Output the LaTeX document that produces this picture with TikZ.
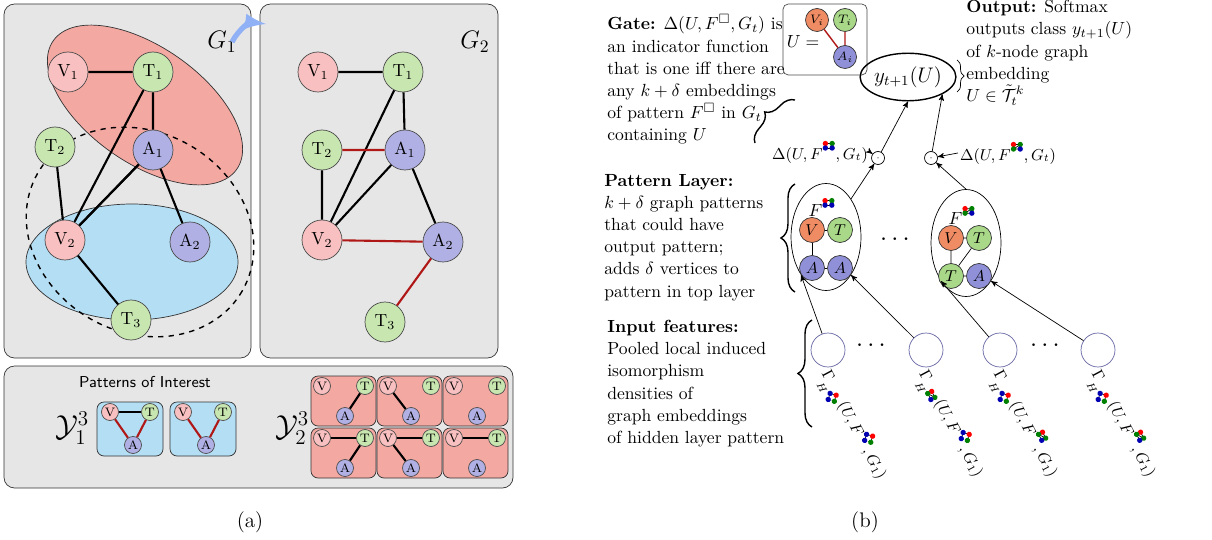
\documentclass[tikz,border=0pt]{standalone}
\usepackage{amsmath,amssymb}
\usetikzlibrary{arrows,decorations.pathreplacing,calc,shapes.geometric}
\definecolor{panel}{HTML}{E6E6E6}
\definecolor{vcol}{HTML}{F8C0C0}
\definecolor{tcol}{HTML}{C8E6B0}
\definecolor{acol}{HTML}{B0B0E4}
\definecolor{vcolB}{HTML}{F08C64}
\definecolor{tcolB}{HTML}{A8D888}
\definecolor{acolB}{HTML}{9090D8}
\definecolor{redell}{HTML}{F4A8A2}
\definecolor{blueell}{HTML}{B4DEF4}
\definecolor{edgered}{HTML}{B01818}
\newcommand\pt[2]{\fill[#1] (#2) circle (0.6);}
\newcommand\patsq{\tikz[baseline=0pt,x=0.09cm,y=0.09cm]{\draw[thin](0,2)--(1.5,2) (0,2)--(0,1)--(1.5,1);\pt{red}{0,2}\pt{green!50!black}{1.5,2}\pt{blue!70!black}{0,1}\pt{blue!70!black}{1.5,1}}}
\newcommand\patz{\tikz[baseline=0pt,x=0.09cm,y=0.09cm]{\draw[thin](0,2)--(1.5,2)--(0,1)--(1.5,1);\pt{red}{0,2}\pt{green!50!black}{1.5,2}\pt{green!50!black}{0,1}\pt{blue!70!black}{1.5,1}}}
\newcommand\patv{\tikz[baseline=0pt,x=0.09cm,y=0.09cm]{\draw[thin](0,1)--(1,2)--(2,1) (0,1)--(1,0);\pt{blue!70!black}{0,1}\pt{red}{1,2}\pt{green!50!black}{2,1}\pt{blue!70!black}{1,0}}}
\tikzset{
  g/.style={circle,draw=black!70,minimum size=0.8cm,inner sep=0pt,font=\rmfamily},
  gv/.style={g,fill=vcol}, gt/.style={g,fill=tcol}, ga/.style={g,fill=acol},
  s/.style={circle,draw=black!70,minimum size=0.34cm,inner sep=0pt,font=\rmfamily\scriptsize},
  sv/.style={s,fill=vcol}, st/.style={s,fill=tcol}, sa/.style={s,fill=acol},
  p/.style={circle,draw=black!80,minimum size=0.5cm,inner sep=0pt,font=\small},
  pv/.style={p,fill=vcolB}, pt/.style={p,fill=tcolB}, pa/.style={p,fill=acolB},
  e/.style={very thick}, er/.style={very thick,edgered},
  panelbox/.style={draw=black!80,fill=panel,rounded corners=6pt},
  txt/.style={align=left,anchor=north west,inner sep=0pt,font=\fontsize{10}{12.6}\selectfont},
  inp/.style={circle,draw=blue!40!black!60,minimum size=0.68cm,inner sep=0pt},
  od/.style={circle,draw=black,inner sep=0pt,minimum size=0.26cm,font=\tiny},
  arr/.style={->,>=stealth',thin},
  pell/.style={draw,ellipse,minimum width=1.4cm,minimum height=2.14cm,fill=white},
  gam/.style={rotate=-62,anchor=west,inner sep=1pt,font=\small}
}
\begin{document}
\begin{tikzpicture}[x=0.02cm,y=-0.02cm]
\useasboundingbox (0,0) rectangle (1212,540);
% panels
\draw[panelbox] (4,4) rectangle (251,358);
\draw[panelbox] (260,4) rectangle (498,358);
\draw[panelbox] (4,366) rectangle (513,488);
% G1
\draw[fill=redell,draw=black!80,rotate around={-35:(145,105)}] (145,105) ellipse (112 and 58);
\draw[fill=blueell,draw=black!80] (132,262) ellipse (106 and 58);
\draw[dashed,thick,rotate around={-30:(140,232)}] (140,232) ellipse (118 and 100);
\node[gv] (v1) at (68,72) {V$_1$};
\node[gt] (t1) at (153,72) {T$_1$};
\node[gt] (t2) at (55,147) {T$_2$};
\node[ga] (a1) at (153,150) {A$_1$};
\node[gv] (v2) at (65,240) {V$_2$};
\node[ga] (a2) at (190,242) {A$_2$};
\node[gt] (t3) at (131,320) {T$_3$};
\draw[e] (v1)--(t1) (t1)--(a1) (t1)--(v2) (a1)--(v2) (a1)--(a2) (t2)--(v2) (v2)--(t3);
\draw[e] (a1.south west)--(v2.north east);
\node[font=\Large] (g1) at (222,42) {$G_1$};
\node[font=\Large] (g2) at (475,42) {$G_2$};
\coordinate (c1) at (232,42); \coordinate (c2) at (266,24);
\draw[->,>=latex,line width=3pt,blueell!80!blue] (c1) to[bend left=35] (c2);
% G2
\node[gv] (w1) at (318,72) {V$_1$};
\node[gt] (u1) at (403,72) {T$_1$};
\node[gt] (u2) at (322,150) {T$_2$};
\node[ga] (b1) at (405,150) {A$_1$};
\node[gv] (w2) at (322,240) {V$_2$};
\node[ga] (b2) at (443,242) {A$_2$};
\node[gt] (u3) at (385,322) {T$_3$};
\draw[e] (w1)--(u1) (u1)--(b1) (u1)--(w2) (b1)--(w2) (b1)--(b2) (u2)--(w2);
\draw[er] (u2)--(b1) (w2)--(b2) (b2)--(u3);
% patterns of interest
\node[font=\sffamily\small] (poi) at (145,382) {Patterns of Interest};
\node[font=\LARGE] (y1) at (72,428) {$\mathcal{Y}_1^3$};
\node[font=\LARGE] (y2) at (292,428) {$\mathcal{Y}_2^3$};
\foreach \x/\k in {97/1,170/2}{
  \draw[fill=blueell,draw=black!80,rounded corners=4pt] (\x,402) rectangle ++(66,54);
  \node[sv] (pv\k) at (\x+13,412) {V};
  \node[st] (pt\k) at (\x+53,412) {T};
  \node[sa] (pa\k) at (\x+36,445) {A};
  \draw[er] (pv\k)--(pa\k) (pa\k)--(pt\k);
}
\draw[e] (pv1)--(pt1);
\foreach \c in {0,1,2}{\foreach \r in {0,1}{
  \draw[fill=redell,draw=black!80,rounded corners=4pt] (311+66*\c,376+52*\r) rectangle ++(65,50);
  \node[sv] (qv\c\r) at (322+66*\c,386+52*\r) {V};
  \node[st] (qt\c\r) at (365+66*\c,386+52*\r) {T};
  \node[sa] (qa\c\r) at (345+66*\c,416+52*\r) {A};
  \ifnum\r=1 \draw[e] (qv\c\r)--(qt\c\r); \fi
}}
\draw[e] (qa00)--(qt00) (qa10)--(qv10) (qa01)--(qt01) (qa11)--(qv11);
% captions
\node (capa) at (250,522) {\large (a)};
\node (capb) at (865,522) {\large (b)};
% U box
\draw[draw=black!70,fill=white,rounded corners=3pt] (783,4) rectangle (867,75);
\node (ueq) at (803,42) {$U=$};
\node[pv,minimum size=0.46cm] (ui) at (817,20) {\scriptsize$V_i$};
\node[pt,minimum size=0.46cm] (ti) at (845,20) {\scriptsize$T_i$};
\node[pa,minimum size=0.46cm] (ai) at (845,57) {\scriptsize$A_i$};
\draw[edgered,thick] (ui)--(ai) (ti)--(ai);
% right texts
\node[txt] (gate) at (607,14) {\textbf{Gate:} $\Delta(U,F^{\square},G_t)$ is\\an indicator function\\that is one iff there are\\any $k+\delta$ embeddings\\of pattern $F^{\square}$ in $G_t$\\containing $U$};
\node[txt] (outp) at (966,0) {\textbf{Output:} Softmax\\outputs class $y_{t+1}(U)$\\of $k$-node graph\\embedding\\$U\in\tilde{\mathcal{T}}_t^k$};
\node[txt] (play) at (604,174) {\textbf{Pattern Layer:}\\$k+\delta$ graph patterns\\that could have\\output pattern;\\adds $\delta$ vertices to\\pattern in top layer};
\node[txt] (inf) at (607,320) {\textbf{Input features:}\\Pooled local induced\\isomorphism\\densities of\\graph embeddings\\of hidden layer pattern};
% output
\node[draw,ellipse,minimum width=1.7cm,minimum height=0.95cm,inner sep=0pt,thick,font=\large] (yout) at (908,77) {$y_{t+1}(U)$};
\draw[decorate,decoration={brace,amplitude=4pt}] (957,60)--(957,92);
\draw[decorate,decoration={brace,amplitude=8pt},thick] (755,143)--(795,100);
% gates
\node[od] (o1) at (878,158) {$\cdot$};
\node[od] (o2) at (931,158) {$\cdot$};
\node[anchor=east,inner sep=1pt,font=\small] (d1) at (870,152) {$\Delta(U,F^{\patsq},G_t)$};
\node[anchor=west,inner sep=1pt,font=\small] (d2) at (958,153) {$\Delta(U,F^{\patz},G_t)$};
\draw[arr] (d1.east)--(o1);
\draw[arr] (d2.west)--(o2);
\draw[arr] (o1)--(yout.south);
\draw[arr] (o2)--(yout.south east);
% pattern ellipses
\node[pell] (pe1) at (826,237) {};
\node[pell] (pe2) at (966,243) {};
\node (f1) at (822,207) {$F^{\patsq}$};
\node (f2) at (962,215) {$F^{\patz}$};
\node[pv] (p1v) at (812,230) {$V$};
\node[pt] (p1t) at (840,230) {$T$};
\node[pa] (p1a) at (812,268) {$A$};
\node[pa] (p1b) at (840,268) {$A$};
\draw[thin] (p1v)--(p1t) (p1v)--(p1a) (p1a)--(p1b);
\node[pv] (p2v) at (951,238) {$V$};
\node[pt] (p2t) at (979,238) {$T$};
\node[pt] (p2s) at (951,276) {$T$};
\node[pa] (p2a) at (979,276) {$A$};
\draw[thin] (p2v)--(p2t) (p2v)--(p2s) (p2s)--(p2t) (p2s)--(p2a);
\node[font=\Large] (dots1) at (897,240) {$\cdots$};
\draw[arr] (pe1.north east)--(o1);
\draw[arr] (pe2.north)--(o2);
\draw[decorate,decoration={brace,amplitude=8pt},thick] (795,292)--(795,184);
% inputs
\node[inp] (i1) at (828,350) {};
\node[inp] (i2) at (926,350) {};
\node[inp] (i3) at (1000,350) {};
\node[inp] (i4) at (1098,350) {};
\node[font=\Large] (dots2) at (873,346) {$\cdots$};
\node[font=\Large] (dots3) at (1047,346) {$\cdots$};
\draw[arr] (i1)--(pe1.south west);
\draw[arr] (i2)--(pe1.south east);
\draw[arr] (i3)--(pe2.south west);
\draw[arr] (i4)--(pe2.south east);
\draw[decorate,decoration={brace,amplitude=8pt},thick] (812,427)--(812,320);
\node[gam] (gm1) at ($(i1.south)+(-4,2)$) {$\Gamma_{\!H^{\patv}}(U,F^{\patv},G_1)$};
\node[gam] (gm2) at ($(i2.south)+(-4,2)$) {$\Gamma_{\!H^{\patz}}(U,F^{\patv},G_1)$};
\node[gam] (gm3) at ($(i3.south)+(-4,2)$) {$\Gamma_{\!H^{\patv}}(U,F^{\patz},G_1)$};
\node[gam] (gm4) at ($(i4.south)+(-4,2)$) {$\Gamma_{\!H^{\patv}}(U,F^{\patz},G_1)$};
\end{tikzpicture}
\end{document}
